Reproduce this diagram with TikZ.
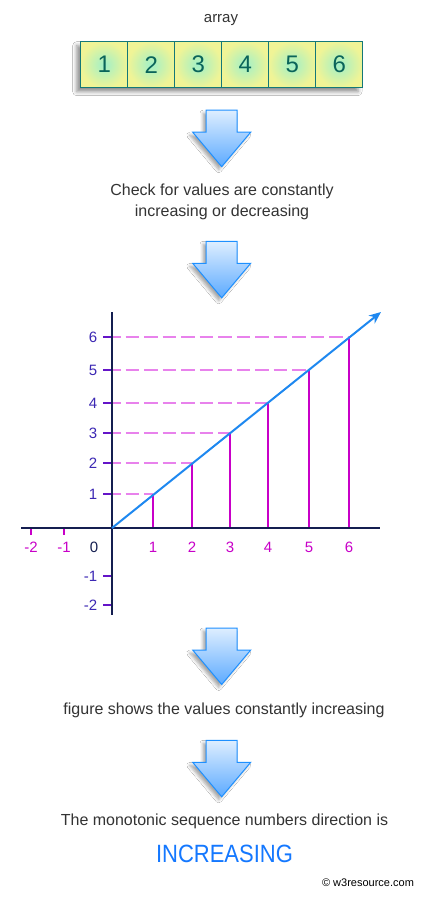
\documentclass[tikz,border=0pt]{standalone}
\usepackage{fontspec}
\setmainfont{Liberation Sans}
\newfontfamily\incfont[FakeStretch=0.88]{Liberation Sans}
\usetikzlibrary{shadows,shadows.blur,arrows.meta}
\definecolor{txt}{RGB}{51,51,51}
\definecolor{cellborder}{RGB}{20,120,120}
\definecolor{celltxt}{RGB}{10,100,90}
\definecolor{cellin}{RGB}{160,240,200}
\definecolor{cellout}{RGB}{240,244,150}
\definecolor{arrborder}{RGB}{30,144,255}
\definecolor{arrtop}{RGB}{222,238,255}
\definecolor{arrbot}{RGB}{92,170,255}
\definecolor{axiscol}{RGB}{20,30,80}
\definecolor{ytickcol}{RGB}{100,20,200}
\definecolor{ylabcol}{RGB}{60,40,180}
\definecolor{xtickcol}{RGB}{200,0,200}
\definecolor{dashcol}{RGB}{232,130,236}
\definecolor{linecol}{RGB}{30,136,240}
\definecolor{inccol}{RGB}{20,120,255}
\tikzset{
  plaintext/.style={text=txt,font=\fontsize{16}{19}\selectfont,inner sep=0pt},
  cell/.style={draw=cellborder,line width=1pt,inner color=cellin,outer color=cellout,
    minimum width=47pt,minimum height=46pt,inner sep=0pt,text=celltxt,font=\fontsize{24}{26}\selectfont},
  blockarrow/.style={draw=arrborder,line width=1pt,top color=arrtop,bottom color=arrbot,
    blur shadow={shadow xshift=-3pt,shadow yshift=-3pt,shadow blur radius=3pt,shadow opacity=35}},
  axisline/.style={draw=axiscol,line width=2.4pt},
  ytick/.style={draw=ytickcol,line width=2pt},
  xtick/.style={draw=xtickcol,line width=2pt},
  stem/.style={draw=xtickcol,line width=2pt},
  guide/.style={draw=dashcol,line width=2pt,dash pattern=on 13.5pt off 5pt,dash phase=5pt},
  ylab/.style={text=ylabcol,font=\fontsize{15}{17}\selectfont,anchor=east,inner sep=0pt},
  xlab/.style={text=xtickcol,font=\fontsize{15}{17}\selectfont,inner sep=0pt},
}
\newcommand{\blockarrowat}[2]{%
  \path[blockarrow] (#1-29,#2) -- (#1-29+13.3,#2) -- (#1-29+13.3,#2-22) -- (#1+15.4,#2-22)
    -- (#1+15.4,#2) -- (#1+29,#2) -- (#1,#2+34.5) -- cycle;}
\begin{document}
\begin{tikzpicture}[x=1pt,y=-1pt]
\useasboundingbox[fill=white] (0,0) rectangle (427,898);
% array
\node[plaintext,font=\fontsize{15}{17}\selectfont] (arraylbl) at (221,20) {array};
\fill[blur shadow={shadow xshift=-4pt,shadow yshift=-4pt,shadow blur radius=4pt,shadow opacity=45},white]
  (80.7,41.7) rectangle (362,87.7);
\foreach \v [count=\i from 0] in {1,...,6} {
  \node[cell] (c\v) at (104.2+47*\i,64.7) {\v};
}
% arrow 1
\blockarrowat{221.7}{132.2}
\node[plaintext] (check1) at (222,191.7) {Check for values are constantly};
\node[plaintext] (check2) at (222,212.7) {increasing or decreasing};
% arrow 2
\blockarrowat{221.7}{263.3}
% graph
\coordinate (O) at (112,528);
\coordinate (xl) at (21,528);
\coordinate (xr) at (380,528);
\coordinate (yt) at (112,312);
\coordinate (yb) at (112,615);
\foreach \k/\X/\Y in {1/153/494,2/192/463,3/230/433,4/268/403,5/309/370,6/349/337} {
  \coordinate (P\k) at (\X,\Y);
  \coordinate (B\k) at (\X,528);
  \coordinate (T\k) at (103,\Y);
  \coordinate (Y\k) at (112,\Y);
  \draw[guide] (Y\k) -- (P\k);
  \draw[stem] (B\k) -- (P\k);
  \draw[ytick] (T\k) -- (Y\k);
  \node[ylab] (yl\k) at (97.5,\Y) {\k};
  \node[xlab] (xl\k) at (\X,547) {\k};
}
\foreach \k/\Y in {1/576,2/605} {
  \coordinate (NT\k) at (103,\Y);
  \coordinate (NY\k) at (112,\Y);
  \draw[ytick] (NT\k) -- (NY\k);
  \node[ylab] (nyl\k) at (97.5,\Y) {-\k};
}
\foreach \k/\X in {1/64,2/31} {
  \coordinate (NB\k) at (\X,528);
  \coordinate (NE\k) at (\X,535);
  \draw[xtick] (NB\k) -- (NE\k);
  \node[xlab] (nxl\k) at (\X,547) {-\k};
}
\draw[axisline] (xl) -- (xr);
\draw[axisline] (yt) -- (yb);
\node[text=axiscol,font=\fontsize{15}{17}\selectfont,inner sep=0pt] (zero) at (94,547) {0};
\coordinate (tip) at (381,312);
\draw[linecol,line width=2pt,-{Stealth[length=12pt,width=10pt]}] (O) -- (tip);
% arrow 3
\blockarrowat{221.7}{650}
\node[plaintext] (fig) at (224,710.5) {figure shows the values constantly increasing};
% arrow 4
\blockarrowat{221.7}{762.3}
\node[plaintext] (mono) at (224.5,821.5) {The monotonic sequence numbers direction is};
\node[text=inccol,font=\incfont\fontsize{25}{28}\selectfont,inner sep=0pt] (inc) at (224.5,853.5) {INCREASING};
\node[text=black,font=\fontsize{11}{13}\selectfont,inner sep=0pt] (copy) at (368,883) {© w3resource.com};
\end{tikzpicture}
\end{document}
